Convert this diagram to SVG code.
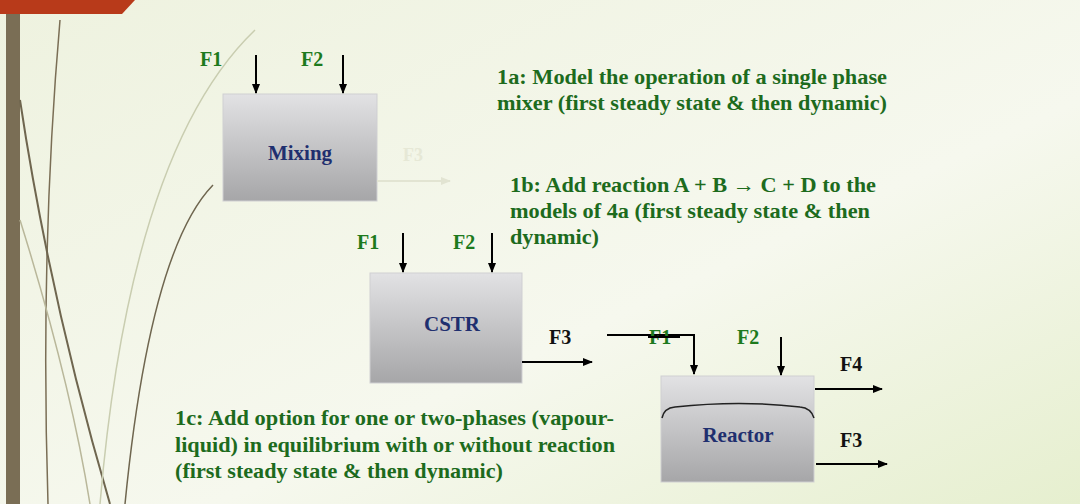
<svg xmlns="http://www.w3.org/2000/svg" width="1080" height="504" viewBox="0 0 1080 504">
<defs>
<linearGradient id="bg" x1="0" y1="0" x2="1" y2="1"><stop offset="0" stop-color="#eef2df"/><stop offset="0.6" stop-color="#f6f8ee"/><stop offset="1" stop-color="#e6efcf"/></linearGradient>
<linearGradient id="box" x1="0" y1="0" x2="0" y2="1"><stop offset="0" stop-color="#e2e2e4"/><stop offset="1" stop-color="#a6a6a8"/></linearGradient>
<marker id="ah" markerWidth="10" markerHeight="10" refX="9" refY="5" orient="auto" markerUnits="userSpaceOnUse"><path d="M0,1 L10,5 L0,9 Z" fill="#000"/></marker>
<marker id="ahf" markerWidth="10" markerHeight="10" refX="9" refY="5" orient="auto" markerUnits="userSpaceOnUse"><path d="M0,1 L10,5 L0,9 Z" fill="#e2e4d2"/></marker>
<style>
text{font-family:"Liberation Serif","DejaVu Serif",serif;font-weight:bold}
.g{fill:#1d7a1d;font-size:20px}
.k{fill:#111;font-size:20px}
.n{fill:#1f2f6f;font-size:21px}
.t{fill:#1d6b1d;font-size:21px}
.bx{fill:url(#box);stroke:#cfcfd2;stroke-width:1}
.c{stroke:#000;stroke-width:2;fill:none}
</style>
</defs>
<rect width="1080" height="504" fill="url(#bg)"/>
<g id="decor">
<path d="M0,0 H135 L122,14 H0 Z" fill="#b83a1a"/>
<rect x="6" y="14" width="14" height="490" fill="#7a6e55"/>
<path d="M60,20 Q40,250 48,504" stroke="#7a6e55" stroke-width="1.5" fill="none"/>
<path d="M20,100 Q50,300 110,504" stroke="#6f664f" stroke-width="2" fill="none"/>
<path d="M255,30 Q130,150 100,504" stroke="#c9cdb0" stroke-width="1.5" fill="none"/>
<path d="M213,185 Q150,250 125,504" stroke="#6f664f" stroke-width="1.5" fill="none"/>
<path d="M20,220 Q70,380 90,504" stroke="#b9b79a" stroke-width="1.5" fill="none"/>
</g>
<g id="mixing"><rect class="bx" x="223" y="94" width="154" height="107"/><text class="n" x="300" y="160" text-anchor="middle">Mixing</text></g>
<g id="cstr"><rect class="bx" x="370" y="273" width="152" height="110"/><text class="n" x="452" y="331" text-anchor="middle">CSTR</text></g>
<g id="reactor"><rect class="bx" x="661" y="376" width="153" height="106"/><path d="M662,418 Q664,408 675,407 Q740,400 800,407 Q811,408 814,418" stroke="#222" stroke-width="1.5" fill="none"/><text class="n" x="738" y="442" text-anchor="middle">Reactor</text></g>
<g id="connectors">
<line class="c" x1="256" y1="55" x2="256" y2="93" marker-end="url(#ah)"/>
<line class="c" x1="343" y1="55" x2="343" y2="93" marker-end="url(#ah)"/>
<line x1="377" y1="181" x2="450" y2="181" stroke="#e2e4d2" stroke-width="2" marker-end="url(#ahf)"/>
<line class="c" x1="403" y1="233" x2="403" y2="272" marker-end="url(#ah)"/>
<line class="c" x1="492" y1="233" x2="492" y2="272" marker-end="url(#ah)"/>
<line class="c" x1="522" y1="362" x2="592" y2="362" marker-end="url(#ah)"/>
<path class="c" d="M607,335 H694 V374" marker-end="url(#ah)"/>
<line class="c" x1="781" y1="337" x2="781" y2="375" marker-end="url(#ah)"/>
<line class="c" x1="815" y1="389" x2="882" y2="389" marker-end="url(#ah)"/>
<line class="c" x1="816" y1="464" x2="887" y2="464" marker-end="url(#ah)"/>
</g>
<g id="labels">
<text class="g" x="200" y="66">F1</text><text class="g" x="301" y="66">F2</text>
<text x="403" y="161" style="fill:#e6e8d6;font-size:18px">F3</text>
<text class="g" x="357" y="249">F1</text><text class="g" x="453" y="249">F2</text>
<text class="k" x="549" y="344">F3</text>
<text class="g" x="649" y="344">F1</text><text class="g" x="737" y="344">F2</text>
<text class="k" x="840" y="371">F4</text><text class="k" x="840" y="447">F3</text>
<line x1="648" y1="337" x2="680" y2="337" stroke="#000" stroke-width="2"/>
</g>
<g id="texts">
<text class="t" x="497" y="84" textLength="390" lengthAdjust="spacingAndGlyphs">1a: Model the operation of a single phase</text>
<text class="t" x="497" y="110" textLength="390" lengthAdjust="spacingAndGlyphs">mixer (first steady state &amp; then dynamic)</text>
<text class="t" x="510" y="192" textLength="366" lengthAdjust="spacingAndGlyphs">1b: Add reaction A + B → C + D to the</text>
<text class="t" x="510" y="218" textLength="360" lengthAdjust="spacingAndGlyphs">models of 4a (first steady state &amp; then</text>
<text class="t" x="510" y="244" textLength="89" lengthAdjust="spacingAndGlyphs">dynamic)</text>
<text class="t" x="175" y="425" textLength="439" lengthAdjust="spacingAndGlyphs">1c: Add option for one or two-phases (vapour-</text>
<text class="t" x="175" y="452" textLength="440" lengthAdjust="spacingAndGlyphs">liquid) in equilibrium with or without reaction</text>
<text class="t" x="175" y="478" textLength="328" lengthAdjust="spacingAndGlyphs">(first steady state &amp; then dynamic)</text>
</g>
</svg>
